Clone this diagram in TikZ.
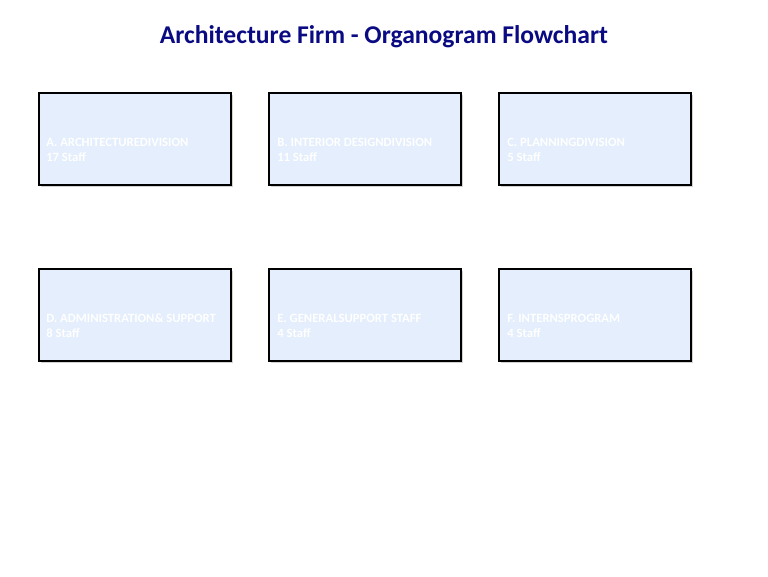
\documentclass[tikz,border=0pt]{standalone}
\usepackage{fontspec}
\setmainfont{Carlito}
\usetikzlibrary{shadows}
\definecolor{boxfill}{RGB}{228,238,252}
\definecolor{titleblue}{RGB}{10,10,130}
\begin{document}
\begin{tikzpicture}[x=0.75pt,y=-0.75pt,
  unit/.style={draw=black,line width=1.5pt,fill=boxfill,minimum width=192*0.75pt,minimum height=92*0.75pt,
    drop shadow={shadow xshift=1.5pt,shadow yshift=-1.5pt,opacity=0.35},inner sep=0pt},
  lbl/.style={anchor=north west,text=white,font=\bfseries\fontsize{9.5pt}{11.5pt}\selectfont,align=left,inner sep=0pt}]
\useasboundingbox (0,0) rectangle (768,576);
\node[font=\bfseries\fontsize{19.2pt}{21pt}\selectfont,text=titleblue] (title) at (384,37) {Architecture Firm - Organogram Flowchart};
\node[unit] (a) at (134.5,138.5) {};
\node[unit] (b) at (364.5,138.5) {};
\node[unit] (c) at (595,138.5) {};
\node[unit] (d) at (134.5,314.5) {};
\node[unit] (e) at (364.5,314.5) {};
\node[unit] (f) at (595,314.5) {};
\node[lbl] (ta) at (46,137.5) {A. ARCHITECTUREDIVISION\\17 Staff};
\node[lbl] (tb) at (277,137.5) {B. INTERIOR DESIGNDIVISION\\11 Staff};
\node[lbl] (tc) at (507,137.5) {C. PLANNINGDIVISION\\5 Staff};
\node[lbl] (td) at (46,313.5) {D. ADMINISTRATION\& SUPPORT\\8 Staff};
\node[lbl] (te) at (277,313.5) {E. GENERALSUPPORT STAFF\\4 Staff};
\node[lbl] (tf) at (507,313.5) {F. INTERNSPROGRAM\\4 Staff};
\end{tikzpicture}
\end{document}
